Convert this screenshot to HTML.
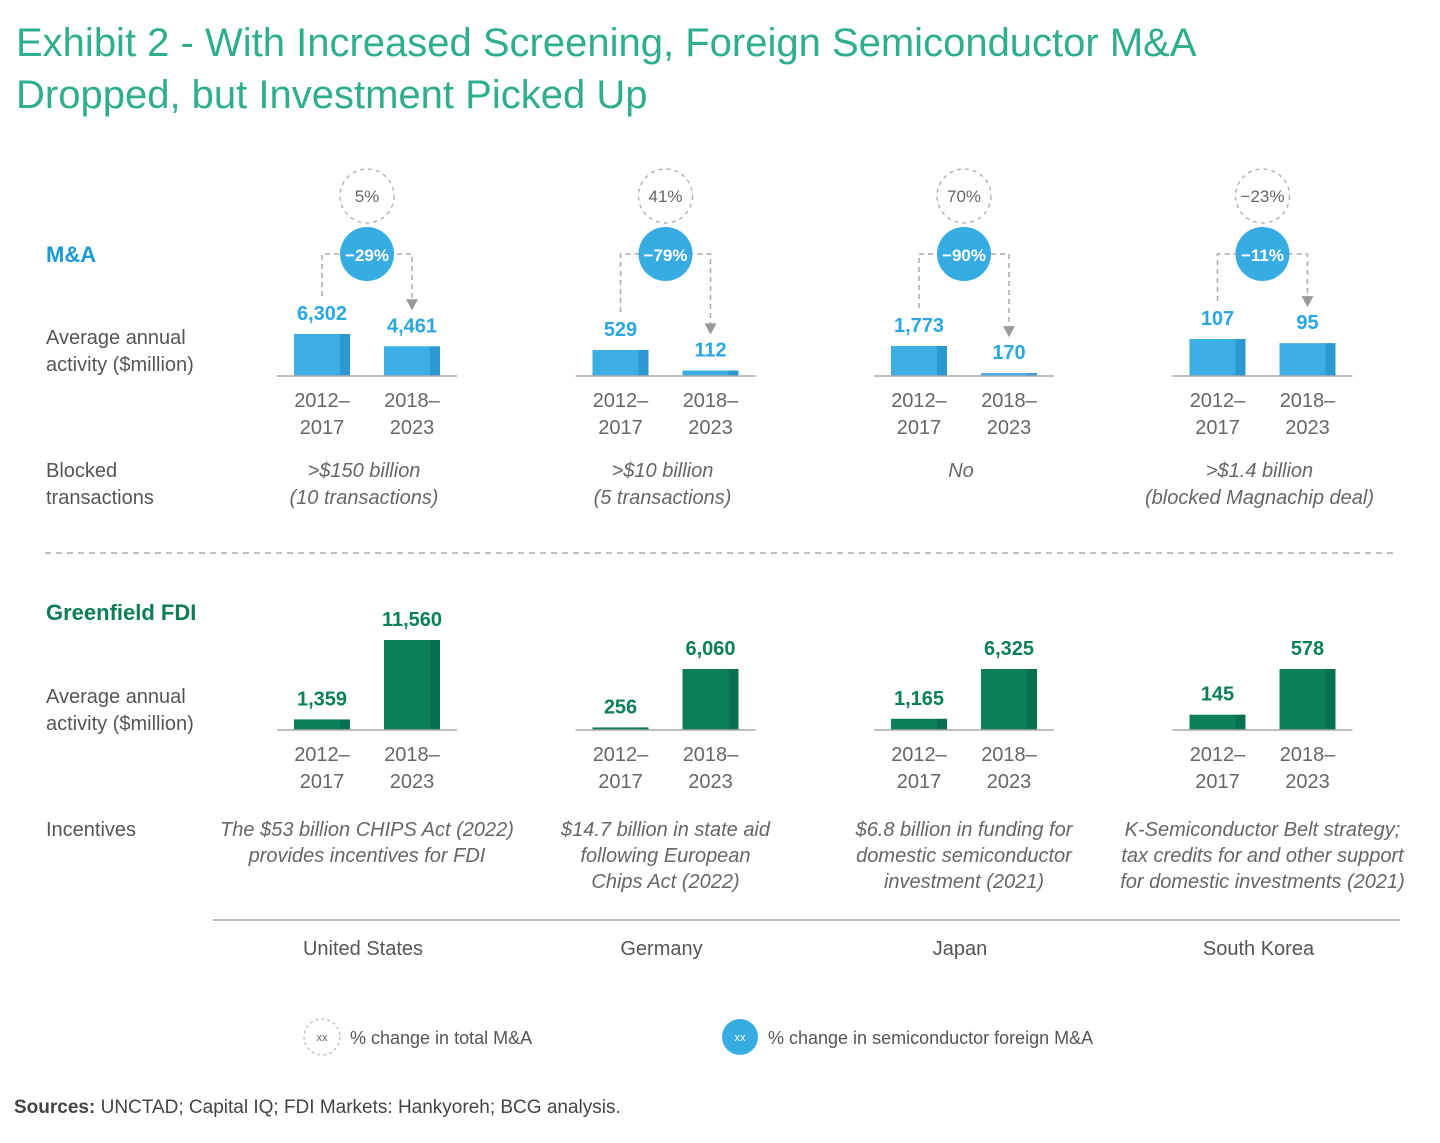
<!DOCTYPE html>
<html><head><meta charset="utf-8"><style>
body{margin:0;background:#fff;}
svg{display:block;font-family:"Liberation Sans",sans-serif;}
</style></head><body>
<svg id="c" width="1440" height="1143" viewBox="0 0 1440 1143">
<text x="16" y="56" font-size="40" fill="#2fae8e">Exhibit 2 - With Increased Screening, Foreign Semiconductor M&amp;A</text>
<text x="16" y="108" font-size="40" fill="#2fae8e">Dropped, but Investment Picked Up</text>
<text x="46" y="262" font-size="22" font-weight="bold" fill="#1a9ad6">M&amp;A</text>
<text x="46" y="344" font-size="20" fill="#555">Average annual</text>
<text x="46" y="371" font-size="20" fill="#555">activity ($million)</text>
<text x="46" y="477" font-size="20" fill="#555">Blocked</text>
<text x="46" y="504" font-size="20" fill="#555">transactions</text>
<line x1="45" y1="553" x2="1398" y2="553" stroke="#aaa" stroke-width="1.5" stroke-dasharray="6,5"/>
<text x="46" y="620" font-size="22" font-weight="bold" fill="#0e7d55">Greenfield FDI</text>
<text x="46" y="703" font-size="20" fill="#555">Average annual</text>
<text x="46" y="730" font-size="20" fill="#555">activity ($million)</text>
<text x="46" y="836" font-size="20" fill="#555">Incentives</text>
<line x1="213" y1="920" x2="1400" y2="920" stroke="#aaa" stroke-width="1.5"/>
<g>
<circle cx="322" cy="1037" r="18" fill="none" stroke="#aaa" stroke-dasharray="3,3"/>
<text x="322" y="1041" font-size="11" fill="#666" text-anchor="middle">xx</text>
<text x="350" y="1044" font-size="18" fill="#555">% change in total M&amp;A</text>
<circle cx="740" cy="1037" r="18" fill="#36ace2"/>
<text x="740" y="1041" font-size="11" fill="#fff" text-anchor="middle">xx</text>
<text x="768" y="1044" font-size="18" fill="#555">% change in semiconductor foreign M&amp;A</text>
</g>
<text x="14" y="1113" font-size="19" fill="#444"><tspan font-weight="bold">Sources:</tspan> UNCTAD; Capital IQ; FDI Markets: Hankyoreh; BCG analysis.</text>
</svg>
<script>
const countries=["United States","Germany","Japan","South Korea"];
const periods=["2012–2017","2018–2023"];
const maEarly=[6302,529,1773,107];
const maLate=[4461,112,170,95];
const fdiEarly=[1359,256,1165,145];
const fdiLate=[11560,6060,6325,578];
const totalMaChange=["5%","41%","70%","−23%"];
const foreignMaChange=["−29%","−79%","−90%","−11%"];
const blocked=[[">$150 billion","(10 transactions)"],[">$10 billion","(5 transactions)"],["No",""],[">$1.4 billion","(blocked Magnachip deal)"]];
const incentives=[["The $53 billion CHIPS Act (2022)","provides incentives for FDI"],["$14.7 billion in state aid","following European","Chips Act (2022)"],["$6.8 billion in funding for","domestic semiconductor","investment (2021)"],["K-Semiconductor Belt strategy;","tax credits for and other support","for domestic investments (2021)"]];
const maMaxH=[42,26,30,37];
const fdiMaxH=[90,61,61,61];
const svg=document.getElementById('c');
const NS="http://www.w3.org/2000/svg";
function mk(tag,attrs,parent){const e=document.createElementNS(NS,tag);for(const k in attrs)e.setAttribute(k,attrs[k]);(parent||svg).appendChild(e);return e;}
function txt(x,y,s,attrs){const t=mk('text',Object.assign({x:x,y:y,'text-anchor':'middle'},attrs));t.textContent=s;return t;}
function fmt(v){return v.toLocaleString('en-US');}
const cx0=367, dx=298.5;
function bars(i,vals,maxH,base,col,dark,lblCol,prefix){
  const cx=cx0+i*dx; const m=Math.max(vals[0],vals[1]); const tops=[];
  [0,1].forEach(j=>{
    const bx=cx-73+j*90; const h=Math.max(2,vals[j]/m*maxH[i]); const top=base-h; tops.push(top);
    const r=mk('rect',{x:bx,y:top,width:46,height:h,fill:col});
    
    
    const r2=mk('rect',{x:bx+46,y:top,width:10,height:h,fill:dark});
    
    
    const t=txt(bx+28,top-14,fmt(vals[j]),{'font-size':20,'font-weight':'bold',fill:lblCol});
    
    
    const p=periods[j].split('–');
    const y1=txt(bx+28,base+31,p[0]+'–',{'font-size':20,fill:'#666'});
    
    
    const y2=txt(bx+28,base+58,p[1],{'font-size':20,fill:'#666'});
    
    
  });
  const ln=mk('line',{x1:cx-90,y1:base,x2:cx+90,y2:base,stroke:'#aaa','stroke-width':1.5});
  
  
  return tops;
}
countries.forEach((c,i)=>{
  const cx=cx0+i*dx;
  const tops=bars(i,[maEarly[i],maLate[i]],maMaxH,376,'#3daee3','#2b98cf','#2aa6e0','ma');
  // connectors
  const d=mk('path',{d:`M${cx-45},${tops[0]-38} V254 H${cx+45} V${tops[1]-46}`,fill:'none',stroke:'#aaa','stroke-width':1.5,'stroke-dasharray':'5,4'});
  
  
  const a=mk('path',{d:`M${cx+39},${tops[1]-47} L${cx+51},${tops[1]-47} L${cx+45},${tops[1]-36} Z`,fill:'#999'});
  
  
  const c1=mk('circle',{cx:cx,cy:196,r:27,fill:'#fff',stroke:'#aaa','stroke-width':1.3,'stroke-dasharray':'4,4'});
  
  
  const t1=txt(cx,202,totalMaChange[i],{'font-size':17,fill:'#666'});
  
  
  const c2=mk('circle',{cx:cx,cy:254,r:27,fill:'#36ace2'});
  
  
  const t2=txt(cx,261,foreignMaChange[i],{'font-size':17,'font-weight':'bold',fill:'#fff'});
  
  
  blocked[i].forEach((s,k)=>{const t=txt(cx-3,477+k*27,s,{'font-size':20,'font-style':'italic',fill:'#666'});
    
    });
  bars(i,[fdiEarly[i],fdiLate[i]],fdiMaxH,730,'#0a7f59','#087050','#0a7f59','fdi');
  incentives[i].forEach((s,k)=>{const t=txt(cx,836+k*26,s,{'font-size':20,'font-style':'italic',fill:'#666'});
    
    });
  const ct=txt(cx-4,955,c,{'font-size':20,fill:'#555'});
  
  
});
</script>
</body></html>
